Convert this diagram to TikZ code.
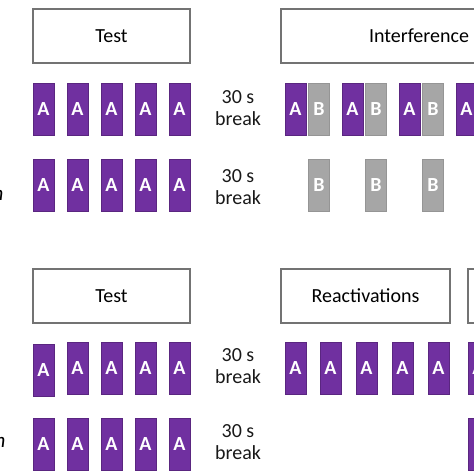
\documentclass[tikz,border=0pt]{standalone}
\usepackage{fontspec}
\setmainfont{Carlito}
\usetikzlibrary{positioning}
\definecolor{blkpurple}{HTML}{7030A0}
\definecolor{blkgray}{HTML}{A6A6A6}
\definecolor{boxline}{HTML}{737373}

\begin{document}
\begin{tikzpicture}[x=1pt, y=-1pt,
  every node/.style={font=\fontsize{20}{22}\selectfont},
  phase/.style={draw=boxline, line width=1.2pt, fill=white, inner sep=0pt},
  blockA/.style={fill=blkpurple, draw=blkpurple!80!black, line width=0.4pt, text=white, font=\fontsize{20}{22}\selectfont\bfseries, minimum width=21pt, minimum height=52pt, inner sep=0pt},
  blockB/.style={fill=blkgray, draw=blkgray!90!black, line width=0.4pt, text=white, font=\fontsize{20}{22}\selectfont\bfseries, minimum width=21pt, minimum height=52pt, inner sep=0pt},
  brk/.style={align=center, text=black!90}]
  \useasboundingbox (0,0) rectangle (474,474);

  % Top: test phase
  \node[phase, minimum width=157pt, minimum height=54pt] (test1) at (111.5,36) {Test};
  \foreach \i/\x in {1/43.5, 2/77.5, 3/111.5, 4/145.5, 5/179.5} {
    \node[blockA] (ta\i) at (\x,109) {A};
    \node[blockA] (tb\i) at (\x,185.5) {A};
  }

  % Breaks
  \node[brk] (brk1) at (238,108.5) {30 s\\break};
  \node[brk] (brk2) at (238,187.5) {30 s\\break};

  % Top: interference phase
  \node[phase, minimum width=276pt, minimum height=54pt, text width=250pt, align=center] (interf) at (419,36) {Interference};
  \foreach \k in {0,1,2} {
    \node[blockA] (ia\k) at (295.5+57*\k,109) {A};
    \node[blockB] (ib\k) at (319+57*\k,109) {B};
    \node[blockB] (jb\k) at (319+57*\k,185.5) {B};
  }
  \node[blockA] (ia3) at (466.5,109) {A};

  % Bottom: test phase
  \node[phase, minimum width=157pt, minimum height=54pt] (test2) at (111.5,296) {Test};
  \node[blockA] (ra1) at (43.5,370.5) {A};
  \foreach \i/\x in {2/77.5, 3/111.5, 4/145.5, 5/179.5} {
    \node[blockA] (ra\i) at (\x,368) {A};
  }
  \foreach \i/\x in {1/43.5, 2/77.5, 3/111.5, 4/145.5, 5/179.5} {
    \node[blockA] (rb\i) at (\x,444) {A};
  }

  % Breaks
  \node[brk] (brk3) at (238,366) {30 s\\break};
  \node[brk] (brk4) at (238,442) {30 s\\break};

  % Bottom: reactivations
  \node[phase, minimum width=169pt, minimum height=54pt] (react) at (365.5,296) {Reactivations};
  \node[phase, minimum width=130pt, minimum height=54pt] (next) at (533,296) {};
  \foreach \i/\x in {1/295.5, 2/330.5, 3/366.5, 4/402.5, 5/438.5, 6/478.5} {
    \node[blockA] (ca\i) at (\x,368) {A};
  }
  \node[blockA] (cb6) at (478.5,444) {};

  % Group labels (cut off)
  \node[anchor=base east, font=\fontsize{21}{22}\selectfont\itshape] (lbl1) at (7,200) {n};
  \node[anchor=base east, font=\fontsize{21}{22}\selectfont\itshape] (lbl2) at (9,447) {n};
\end{tikzpicture}
\end{document}
